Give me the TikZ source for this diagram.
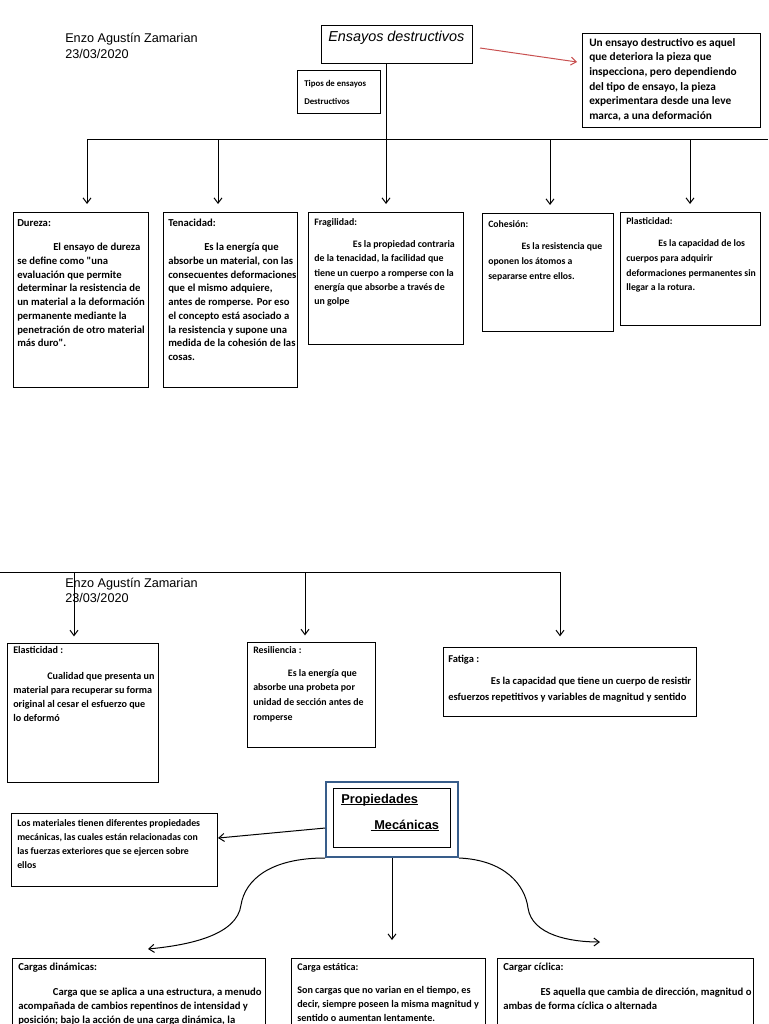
\documentclass[tikz,border=0pt]{standalone}
\usepackage{fontspec}
\newfontfamily\carl{Carlito}
\newfontfamily\libsans{Liberation Sans}
\usetikzlibrary{arrows.meta}
\definecolor{redarr}{RGB}{200,80,80}
\definecolor{bluebox}{RGB}{56,93,138}
\begin{document}
\begin{tikzpicture}[x=0.75pt,y=-0.75pt,
  box/.style={draw=black, line width=0.8pt, inner sep=0pt, anchor=north west},
  txt/.style={anchor=north west, inner sep=0pt, align=left, font=\carl\bfseries\fontsize{8}{10.5}\selectfont},
  head/.style={anchor=base west, inner sep=0pt, font=\libsans\fontsize{9.5}{11}\selectfont},
  arr/.style={-{Straight Barb[length=4pt,width=6pt]}, line width=0.75pt}]
\useasboundingbox (0,0) rectangle (768,1024);
\clip (0,0) rectangle (768,1024);

% ---------- top section ----------
\node[head] (author1) at (65,43) {Enzo Agustín Zamarian};
\node[head] (date1) at (65,59) {23/03/2020};

\node[box, minimum width=113.25pt, minimum height=28.5pt] (ensayos) at (321,25) {};
\node[anchor=base west, inner sep=0pt, font=\libsans\itshape\fontsize{10.8}{13}\selectfont] (ensayosT) at (328,42) {Ensayos destructivos};

\node[box, minimum width=62.25pt, minimum height=32.25pt] (tipos) at (297,70) {};
\node[txt, font=\carl\bfseries\fontsize{6.6}{13.5}\selectfont] (tiposT) at (304,73.4) {\strut Tipos de ensayos\\Destructivos};

\node[box, minimum width=133.5pt, minimum height=70.5pt] (desc) at (582,33) {};
\node[txt, font=\carl\bfseries\fontsize{8.5}{10.95}\selectfont] (descT) at (589,35.8) {\strut Un ensayo destructivo es aquel\\
que deteriora la pieza que\\
inspecciona, pero dependiendo\\
del tipo de ensayo, la pieza\\
experimentara desde una leve\\
marca, a una deformación};

\coordinate (redS) at (480,48);
\coordinate (redE) at (577,62);
\draw[arr, draw=redarr] (redS) -- (redE);

% boxes row 1
\node[box, minimum width=101.25pt, minimum height=131.25pt] (dureza) at (13,212) {};
\node[box, minimum width=100.5pt, minimum height=131.25pt] (tenacidad) at (163,212) {};
\node[box, minimum width=116.25pt, minimum height=99pt] (fragilidad) at (308,212) {};
\node[box, minimum width=98.25pt, minimum height=88.5pt] (cohesion) at (482,213) {};
\node[box, minimum width=105pt, minimum height=84.75pt] (plasticidad) at (620,212) {};

\node[txt, font=\carl\bfseries\fontsize{8}{10.3}\selectfont] (durezaT) at (17,216.4) {\strut Dureza:\\[8pt]
\hspace*{27pt}El ensayo de dureza\\
se define como "una\\
evaluación que permite\\
determinar la resistencia de\\
un material a la deformación\\
permanente mediante la\\
penetración de otro material\\
más duro".};

\node[txt, font=\carl\bfseries\fontsize{8}{10.3}\selectfont] (tenacidadT) at (168,216.4) {\strut Tenacidad:\\[8pt]
\hspace*{27pt}Es la energía que\\
absorbe un material, con las\\
consecuentes deformaciones\\
que el mismo adquiere,\\
antes de romperse. Por eso\\
el concepto está asociado a\\
la resistencia y supone una\\
medida de la cohesión de las\\
cosas.};

\node[txt, font=\carl\bfseries\fontsize{7.4}{10.7}\selectfont] (fragilidadT) at (314,215) {\strut Fragilidad:\\[6pt]
\hspace*{29pt}Es la propiedad contraria\\
de la tenacidad, la facilidad que\\
tiene un cuerpo a romperse con la\\
energía que absorbe a través de\\
un golpe};

\node[txt, font=\carl\bfseries\fontsize{7.3}{10.9}\selectfont] (cohesionT) at (488,217) {\strut Cohesión:\\[6pt]
\hspace*{25pt}Es la resistencia que\\
oponen los átomos a\\
separarse entre ellos.};

\node[txt, font=\carl\bfseries\fontsize{7.3}{10.9}\selectfont] (plasticidadT) at (626,214) {\strut Plasticidad:\\[6pt]
\hspace*{24pt}Es la capacidad de los\\
cuerpos para adquirir\\
deformaciones permanentes sin\\
llegar a la rotura.};

% bus 1
\coordinate (busL) at (87,139);
\coordinate (busR) at (768,139);
\coordinate (bT) at (218,139);
\coordinate (bC) at (550,139);
\coordinate (bP) at (690,139);
\draw[line width=0.75pt] (busL) -- (busR);
\draw[arr, shorten >=6pt] (ensayos.south -| fragilidad.north) -- (fragilidad.north);
\draw[arr, shorten >=6pt] (busL) -- (busL |- dureza.north);
\draw[arr, shorten >=6pt] (bT) -- (bT |- tenacidad.north);
\draw[arr, shorten >=6pt] (bC) -- (bC |- cohesion.north);
\draw[arr, shorten >=6pt] (bP) -- (bP |- plasticidad.north);

% ---------- second section ----------
\coordinate (bus2L) at (0,572);
\coordinate (bus2R) at (560,572);
\coordinate (b2E) at (74,572);
\coordinate (b2R) at (305,572);
\draw[line width=0.75pt] (bus2L) -- (bus2R);

\node[head] (author2) at (65,587) {Enzo Agustín Zamarian};
\node[head] (date2) at (65,602) {23/03/2020};

\node[box, minimum width=113.25pt, minimum height=104.25pt] (elasticidad) at (7,643) {};
\node[box, minimum width=96pt, minimum height=78.75pt] (resiliencia) at (247,642) {};
\node[box, minimum width=189.75pt, minimum height=51.75pt] (fatiga) at (443,647) {};

\draw[arr, shorten >=5pt] (b2E) -- (b2E |- elasticidad.north);
\draw[arr, shorten >=5pt] (b2R) -- (b2R |- resiliencia.north);
\draw[arr, shorten >=8pt] (bus2R) -- (bus2R |- fatiga.north);

\node[txt, font=\carl\bfseries\fontsize{7.6}{10.5}\selectfont] (elasticidadT) at (13,643.5) {\strut Elasticidad :\\[9pt]
\hspace*{25.5pt}Cualidad que presenta un\\
material para recuperar su forma\\
original al cesar el esfuerzo que\\
lo deformó};

\node[txt, font=\carl\bfseries\fontsize{7.4}{11}\selectfont] (resilienciaT) at (253,642.7) {\strut Resiliencia :\\[6.2pt]
\hspace*{26pt}Es la energía que\\
absorbe una probeta por\\
unidad de sección antes de\\
romperse};

\node[txt, font=\carl\bfseries\fontsize{7.85}{10.5}\selectfont] (fatigaT) at (448,652) {\strut Fatiga :\\[6pt]
\hspace*{32pt}Es la capacidad que tiene un cuerpo de resistir\\[1.5pt]
esfuerzos repetitivos y variables de magnitud y sentido};

% ---------- propiedades mecánicas ----------
\node[box, draw=bluebox, line width=1.5pt, minimum width=99pt, minimum height=56.25pt] (propext) at (325,781) {};
\node[box, minimum width=87.75pt, minimum height=44.25pt] (propint) at (333,788) {};
\node[anchor=base west, inner sep=0pt, font=\libsans\bfseries\fontsize{9.6}{12}\selectfont] (prop1) at (341,803) {Propiedades};
\node[anchor=base west, inner sep=0pt, font=\libsans\bfseries\fontsize{9.6}{12}\selectfont] (prop2) at (374,829) {Mecánicas};
\draw[line width=0.7pt] ([yshift=-1.4pt]prop1.base west) -- ([yshift=-1.4pt]prop1.base east);
\draw[line width=0.7pt] ([xshift=-2.5pt,yshift=-1.4pt]prop2.base west) -- ([yshift=-1.4pt]prop2.base east);

\node[box, minimum width=154.5pt, minimum height=54.75pt] (losmat) at (11,813) {};
\node[txt, font=\carl\bfseries\fontsize{7.35}{10.5}\selectfont] (losmatT) at (17,816) {\strut Los materiales tienen diferentes propiedades\\
mecánicas, las cuales están relacionadas con\\
las fuerzas exteriores que se ejercen sobre\\
ellos};
\draw[arr] ([yshift=-6.4pt]propext.west) -- ([yshift=9pt]losmat.east);

\node[box, minimum width=189.75pt, minimum height=60pt] (dinamicas) at (12,958) {};
\node[box, minimum width=145.5pt, minimum height=60pt] (estatica) at (291,958) {};
\node[box, minimum width=192pt, minimum height=60pt] (ciclica) at (497,958) {};

\node[txt] (dinamicasT) at (18,960) {\strut Cargas dinámicas:\\[8.25pt]
\hspace*{26pt}Carga que se aplica a una estructura, a menudo\\
acompañada de cambios repentinos de intensidad y\\
posición; bajo la acción de una carga dinámica, la};

\node[txt, font=\carl\bfseries\fontsize{7.6}{10.5}\selectfont] (estaticaT) at (297,960) {\strut Carga estática:\\[7pt]
Son cargas que no varian en el tiempo, es\\
decir, siempre poseen la misma magnitud y\\
sentido o aumentan lentamente.};

\node[txt] (ciclicaT) at (503,960) {\strut Cargar cíclica:\\[8.25pt]
\hspace*{28pt}ES aquella que cambia de dirección, magnitud o\\
ambas de forma cíclica o alternada};

\coordinate (cL) at (148,949);
\coordinate (cR) at (600,942);
\draw[arr] (propext.south west) .. controls (270,858) and (245,880) .. (241,905)
  .. controls (237,935) and (190,945) .. (cL);
\draw[arr] (propext.south east) .. controls (505,860) and (525,885) .. (528,908)
  .. controls (532,935) and (570,942) .. (cR);
\draw[arr, shorten >=13.5pt] (propext.south) -- (propext.south |- estatica.north);

\end{tikzpicture}
\end{document}
